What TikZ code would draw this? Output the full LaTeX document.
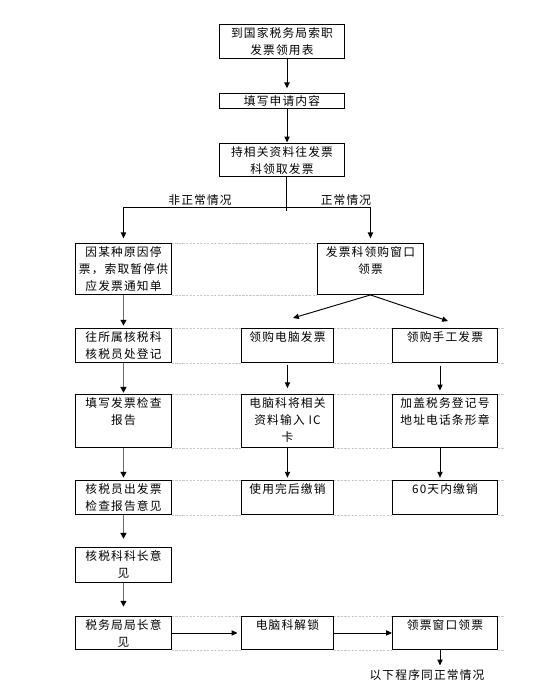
\documentclass[tikz,border=0pt]{standalone}
\usepackage{fontspec}
\usetikzlibrary{arrows.meta}
\newfontfamily\cjkfont[LetterSpace=10]{Noto Sans CJK SC}
\newlength\pxu \setlength\pxu{0.03cm}
% box text: [top pad]{width}{height}{lines}, sizes in pixels
\newcommand\bx[4][3pt]{\parbox[t][#3\pxu][t]{#2\pxu}{\centering\vspace*{#1}#4}}

\begin{document}
\begin{tikzpicture}[x=0.03cm, y=-0.03cm,
	every node/.style={font=\cjkfont\fontsize{10}{14.5}\selectfont},
	box/.style={draw, line width=0.8pt, fill=white, inner sep=0pt, anchor=north west},
	arr/.style={-{Triangle[length=5pt,width=4.5pt]}, line width=0.8pt},
	garr/.style={-{Triangle[length=5pt,width=5pt,black]}, draw=black!58, line width=1.4pt},
	guide/.style={draw=black!22, dash pattern=on 2pt off 1pt, line width=0.6pt}]
	\useasboundingbox (0,0) rectangle (558,687);

	% top boxes
	\node[box] (apply) at (219,24) {\bx{125}{34}{到国家税务局索职\\发票领用表}};
	\node[box] (form) at (219,93) {\bx[1.5pt]{125}{15}{填写申请内容}};
	\node[box] (carry) at (219,143) {\bx{125}{33}{持相关资料往发票\\科领取发票}};

	% left column
	\node[box] (stop) at (75,243) {\bx{96}{51}{因某种原因停\\票，索取暂停供\\应发票通知单}};
	\node[box] (reg) at (75,328) {\bx{96}{34}{往所属核税科\\核税员处登记}};
	\node[box] (check) at (75,394) {\bx{96}{53}{填写发票检查\\报告}};
	\node[box] (opin) at (75,480) {\bx{96}{34}{核税员出发票\\检查报告意见}};
	\node[box] (chief) at (75,547) {\bx{96}{35}{核税科科长意\\见}};
	\node[box] (dir) at (75,616) {\bx{96}{33}{税务局局长意\\见}};

	% right side
	\node[box] (window) at (317,243) {\bx{106}{51}{发票科领购窗口\\领票}};
	\node[box] (pc) at (241,328) {\bx{92}{34}{领购电脑发票}};
	\node[box] (ic) at (241,394) {\bx{92}{53}{电脑科将相关\\资料输入 IC\\卡}};
	\node[box] (usepc) at (241,480) {\bx{92}{34}{使用完后缴销}};
	\node[box] (unlock) at (241,616) {\bx{92}{33}{电脑科解锁}};
	\node[box] (hand) at (392,328) {\bx{105}{34}{领购手工发票}};
	\node[box] (stamp) at (392,394) {\bx{105}{53}{加盖税务登记号\\地址电话条形章}};
	\node[box] (sixty) at (392,480) {\bx{105}{34}{60天内缴销}};
	\node[box] (again) at (392,616) {\bx{105}{33}{领票窗口领票}};

	% faint row lines
	\draw[guide] (stop.north east) -- (window.north west) (stop.south east) -- (window.south west);
	\foreach \a/\b/\c in {reg/pc/hand, check/ic/stamp, opin/usepc/sixty, dir/unlock/again} {
		\draw[guide] (\a.north east) -- (\b.north west) (\b.north east) -- (\c.north west) (\c.north east) -- ++(6,0);
		\draw[guide] (\a.south east) -- (\b.south west) (\b.south east) -- (\c.south west) (\c.south east) -- ++(6,0);
	}

	% top flow
	\coordinate (mc) at (287,0);
	\draw[arr, shorten >=4pt] (apply.south -| mc) -- (form.north -| mc);
	\draw[arr, shorten >=0.5pt] (form.south -| mc) -- (carry.north -| mc);
	\coordinate (split) at (286,207);
	\coordinate (splitend) at (286,211);
	\draw[line width=0.8pt] (carry.south -| split) -- (splitend);
	\draw[arr, shorten >=4pt] (split) -| (stop.north);
	\draw[arr, shorten >=4pt] (split) -| (window.north);
	\node (abn) at (200,200) {非正常情况};
	\node (norm) at (346,200) {正常情况};

	% normal case
	\coordinate (lt) at (293,318);
	\coordinate (rt) at (448,321);
	\draw[arr] (window.south) -- (lt);
	\draw[arr] (window.south) -- (rt);
	\coordinate (rc) at (440,0);
	\draw[arr, shorten <=2pt, shorten >=5pt] (pc.south) -- (ic.north);
	\draw[arr, shorten >=2pt] (ic.south) -- (usepc.north);
	\draw[arr, shorten <=3pt, shorten >=3pt] (hand.south -| rc) -- (stamp.north -| rc);
	\draw[arr, shorten >=2pt] (stamp.south -| rc) -- (sixty.north -| rc);

	% abnormal case
	\foreach \a/\b/\s in {stop/reg/2, reg/check/1, check/opin/2, opin/chief/7, chief/dir/8}
		\draw[garr, shorten >=\s pt] (\a.south) -- (\b.north);
	\draw[arr, shorten >=3pt] (dir.east) -- (unlock.west);
	\draw[arr] (unlock.east) -- (again.west);
	\node (rest) at (427,675) {以下程序同正常情况};
	\draw[arr] (again.south -| rc) -- (rest.north -| rc);
\end{tikzpicture}
\end{document}
